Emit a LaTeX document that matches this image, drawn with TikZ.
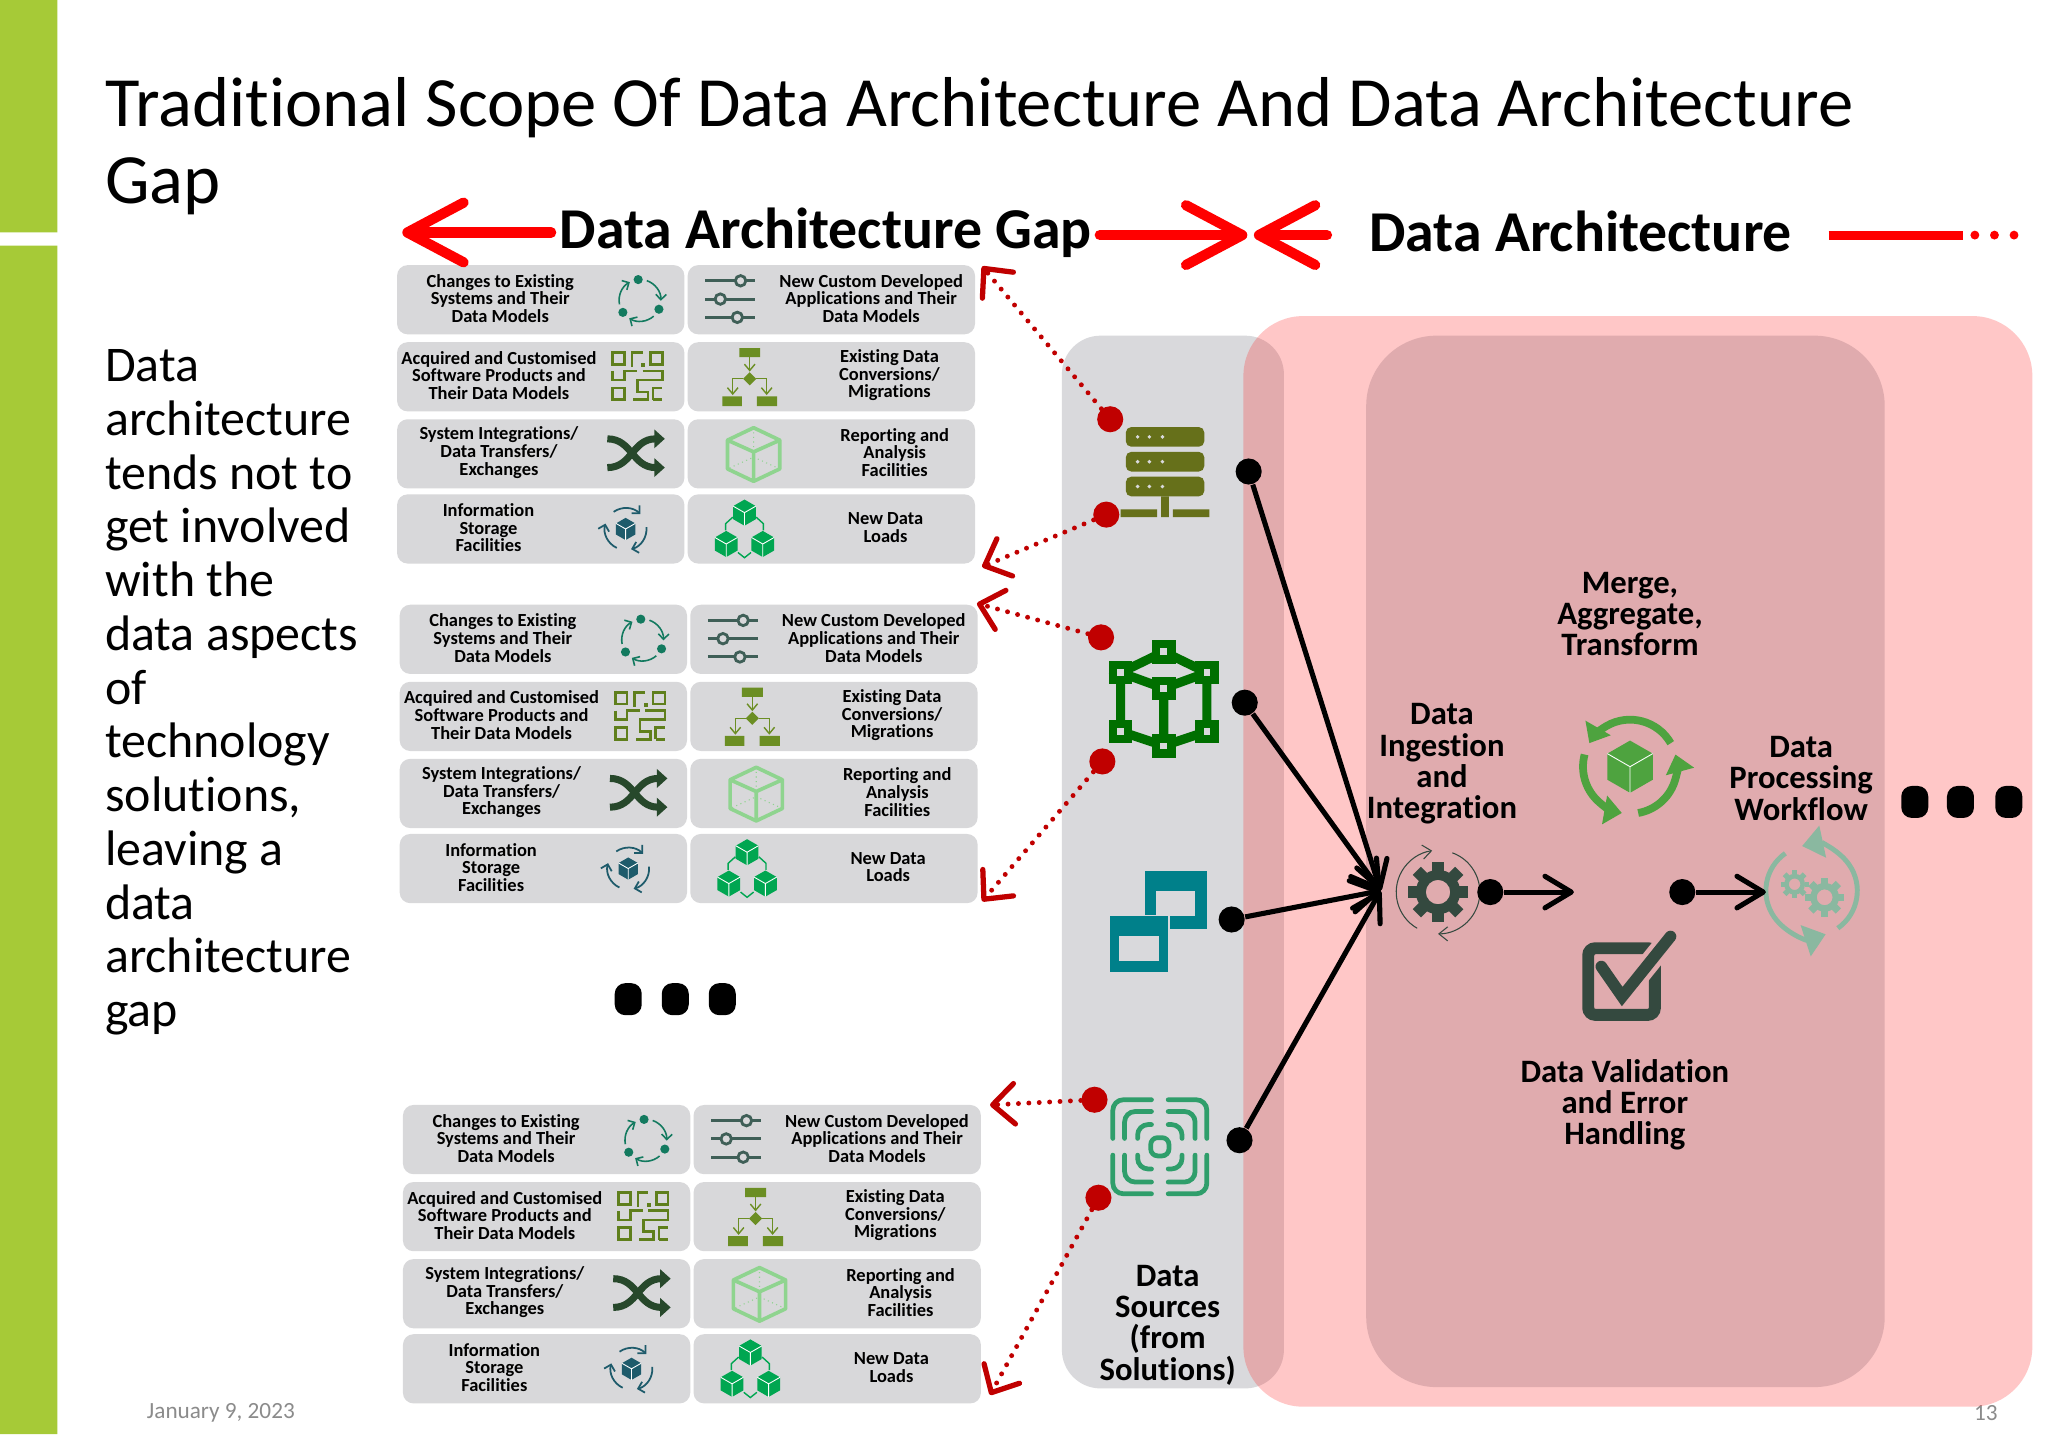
\documentclass[tikz,border=0pt]{standalone}
\usepackage{fontspec}
\setmainfont{Carlito}[RawFeature={-liga}]
\usetikzlibrary{arrows.meta}
\definecolor{barlime}{HTML}{A6CA37}
\definecolor{cardgray}{HTML}{D8D8DA}
\definecolor{panelgray}{HTML}{D9D9DC}
\definecolor{innerrose}{HTML}{E0ABAE}
\definecolor{gapred}{HTML}{C00000}
\definecolor{datedgray}{HTML}{8B8B8B}
\definecolor{cycleteal}{HTML}{137A5F}
\definecolor{qrolive}{HTML}{5F7F1C}
\definecolor{shuffledark}{HTML}{27482B}
\definecolor{storeteal}{HTML}{1E5B6B}
\definecolor{slidergray}{HTML}{3F5F57}
\definecolor{flowolive}{HTML}{6B8E23}
\definecolor{wiregreen}{HTML}{8FD48F}
\definecolor{cubegreen}{HTML}{00A651}
\definecolor{serverolive}{HTML}{66701A}
\definecolor{netgreen}{HTML}{006F00}
\definecolor{windowteal}{HTML}{00808A}
\definecolor{ringgreen}{HTML}{2F9E6B}
\definecolor{gearslate}{HTML}{34493F}
\definecolor{loopgreen}{HTML}{4EA33F}
\definecolor{palegreen}{HTML}{8AB8A0}
\tikzset{
	card/.style={fill=cardgray, rounded corners=3pt, minimum width=2.873cm, minimum height=0.692cm, inner sep=0},
	cardtext/.style={align=center, inner sep=0, font=\fontsize{5.25}{5}\selectfont\bfseries},
	steptext/.style={align=center, inner sep=0, font=\fontsize{9.3}{8.9}\selectfont\bfseries},
	headtext/.style={anchor=west, inner sep=0, font=\fontsize{16.45}{17}\selectfont\bfseries},
	blackdot/.style={circle, fill=black, minimum size=0.261cm, inner sep=0},
	reddot/.style={circle, fill=gapred, minimum size=0.261cm, inner sep=0},
	blob/.style={fill=black, rounded corners=3pt, minimum width=0.27cm, minimum height=0.32cm, inner sep=0},
	bigred/.style={red, line width=2.9pt, line cap=round, -{Straight Barb[length=16pt,width=17pt,round]}},
	gaparrow/.style={gapred, line width=1.4pt, dash pattern=on 0pt off 2.96pt, line cap=round, -{Straight Barb[length=6.2pt,width=11.5pt,line width=1.5pt,round]}},
	feed/.style={black, line width=1.45pt, -{Straight Barb[length=7.5pt,width=9pt,round]}},
	isobox/.pic={
		\fill (0,-1) -- (.87,-.5) -- (.87,.5) -- (0,1) -- (-.87,.5) -- (-.87,-.5) -- cycle;
		\draw[white, line width=.25pt] (-.87,-.5) -- (0,0) -- (.87,-.5) (0,0) -- (0,1);
	},
	gearwheel/.pic={
		\fill[even odd rule] (0,0) circle (1) circle (.55);
		\foreach \a in {0,45,...,315}
			\fill[rotate=\a] (-.26,-1.35) rectangle (.26,-.95);
	},
	cycleicon/.pic={
		\foreach \a in {-95,25,145} {
			\fill[cycleteal] (\a:16) circle (3.5);
			\draw[cycleteal, line width=.45pt, -{Straight Barb[length=1.5pt,width=3pt]}] (\a+24:16) arc[start angle=\a+24, end angle=\a+96, radius=16];
		}
	},
	qricon/.pic={
		\draw[qrolive, line width=.75pt] (-19,-18) rectangle (-10,-9) (10,-18) rectangle (19,-9) (-19,9) rectangle (-10,18)
			(-4,-7) -- (-4,-18) -- (4,-18) (-19,-4) -- (-19,3) -- (-10,3) -- (-10,-4) -- (0,-4) (4,-4) -- (19,-4) -- (19,3) -- (0,3) -- (0,12) -- (8,12) -- (8,18) -- (-3,18)
			(12,18) -- (12,9) -- (19,9) (12,18) -- (19,18);
		\fill[qrolive] (3,-10) rectangle (6,-7);
	},
	shuffleicon/.pic={
		\draw[shuffledark, line width=2pt, -{Triangle[length=3pt,width=5.2pt]}] (-22,-11) .. controls (-3,-11) and (-3,11) .. (15,11) -- (22,11);
		\draw[shuffledark, line width=2pt, -{Triangle[length=3pt,width=5.2pt]}] (-22,11) .. controls (-3,11) and (-3,-11) .. (15,-11) -- (22,-11);
	},
	storeicon/.pic={
		\foreach \a in {-125,-5,115}
			\draw[storeteal, line width=.5pt, -{Straight Barb[length=1.6pt,width=3.2pt]}] (\a:16) arc[start angle=\a, end angle=\a+80, radius=16];
		\pic[color=storeteal, scale=8.5] {isobox};
	},
	slidericon/.pic={
		\foreach \sy/\sx in {-14/8,0/-7.5,14/5.5} {
			\draw[slidergray, line width=.85pt] (-19,\sy) -- (19,\sy);
			\draw[slidergray, fill=cardgray, line width=.8pt] (\sx,\sy) circle (4);
		}
	},
	flowicon/.pic={
		\fill[flowolive] (-8,-22) rectangle (8,-15) (-21,15) rectangle (-6,22.5) (5.5,15) rectangle (21,22.5) (0,-3.5) -- (5,1.5) -- (0,6.5) -- (-5,1.5) -- cycle;
		\draw[flowolive, line width=.4pt, -{Straight Barb[length=1.8pt,width=3pt]}] (0,-15) -- (0,-4);
		\draw[flowolive, line width=.4pt, -{Straight Barb[length=1.8pt,width=3pt]}] (-5,1.5) -- (-13,1.5) -- (-13,14);
		\draw[flowolive, line width=.4pt, -{Straight Barb[length=1.8pt,width=3pt]}] (5,1.5) -- (13,1.5) -- (13,14);
	},
	wireicon/.pic={
		\draw[wiregreen, line width=1.05pt, line join=round] (0,-20.5) -- (20,-11) -- (20,11) -- (0,20.5) -- (-20,11) -- (-20,-11) -- cycle (-20,-11) -- (0,-2) -- (20,-11) (0,-2) -- (0,20.5);
		\draw[wiregreen, line width=.3pt, densely dotted] (0,-20.5) -- (0,2) -- (-20,11) (0,2) -- (20,11);
	},
	cubesicon/.pic={
		\pic[color=cubegreen, scale=10] at (0,-12.5) {isobox};
		\pic[color=cubegreen, scale=10] at (-14,11.5) {isobox};
		\pic[color=cubegreen, scale=10] at (14,11.5) {isobox};
		\draw[cubegreen, line width=.4pt] (-9,-9) -- (-14.5,-4) -- (-14.5,1) (9,-9) -- (14.5,-4) -- (14.5,1) (-5,18) -- (0,22) -- (5,18);
	},
	cardgroup/.pic={
		\foreach \cname/\cx/\cy/\tx/\ctext in {
			la/414/229.5/383/{Changes to Existing\\Systems and Their\\Data Models},
			lb/414/288.5/382/{Acquired and Customised\\Software Products and\\Their Data Models},
			lc/414/347.5/382/{System Integrations/\\Data Transfers/\\Exchanges},
			ld/414/405/374/{Information\\Storage\\Facilities},
			ra/636.5/229.5/667/{New Custom Developed\\Applications and Their\\Data Models},
			rb/636.5/288.5/681/{Existing Data\\Conversions/\\Migrations},
			rc/636.5/347.5/685/{Reporting and\\Analysis\\Facilities},
			rd/636.5/405/678/{New Data\\Loads}} {
			\node[card] (\cname) at (\cx,\cy) {};
			\node[cardtext] (\cname t) at (\tx,\cy-1) {\ctext};
		}
		\pic at (490,230) {cycleicon};
		\pic at (488,288) {qricon};
		\pic at (487,347) {shuffleicon};
		\pic at (479,405) {storeicon};
		\pic at (559,229) {slidericon};
		\pic at (574,288.5) {flowicon};
		\pic at (577,348) {wireicon};
		\pic at (570,405) {cubesicon};
	}
}
\begin{document}
\begin{tikzpicture}[x=0.01306cm, y=-0.01306cm]
	\useasboundingbox (0,0) rectangle (1568,1098);
	\fill[white] (0,0) rectangle (1568,1098);
	\fill[barlime] (0,0) rectangle (44,178) (0,188) rectangle (44,1098);
	\node[anchor=north west, align=left, inner sep=0, font=\fontsize{20.1}{21.9}\selectfont] (title) at (80,58.5) {Traditional Scope Of Data Architecture And Data Architecture\\Gap};
	\node[anchor=north west, align=left, inner sep=0, font=\fontsize{14.2}{15.3}\selectfont] (lefttext) at (80,267) {Data\\architecture\\tends not to\\get involved\\with the\\data aspects\\of\\technology\\solutions,\\leaving a\\data\\architecture\\gap};
	\node[anchor=west, inner sep=0, font=\fontsize{6.6}{7}\selectfont, text=datedgray] (datetext) at (112,1082) {January 9, 2023};
	\node[anchor=east, inner sep=0, font=\fontsize{6.6}{7}\selectfont, text=datedgray] (pagetext) at (1530,1082) {13};

	\foreach \gx/\gy/\gname in {0/0/one,2/260/two,4.5/643/three}
		\pic (\gname) at (\gx,\gy) {cardgroup};
	\foreach \bx in {481,517,553}
		\node[blob] (low\bx) at (\bx,765) {};

	\fill[panelgray, rounded corners=11pt] (813,257) rectangle (983,1063);
	\fill[red!90!white, opacity=.24, rounded corners=17pt] (952,242) rectangle (1556,1077);
	\fill[innerrose, rounded corners=20pt] (1046,257) rectangle (1443,1062);

	\node[headtext] (gaphead) at (428,178) {Data Architecture Gap};
	\node[headtext] (archhead) at (1048,177) {Data Architecture};
	\coordinate (gl) at (422,178);
	\coordinate (gle) at (308,178);
	\coordinate (gr) at (842,180);
	\coordinate (gre) at (955,180);
	\coordinate (al) at (1016,180);
	\coordinate (ale) at (960,180);
	\coordinate (ar) at (1400,180);
	\coordinate (are) at (1503,180);
	\draw[bigred] (gl) -- (gle);
	\draw[bigred] (gr) -- (gre);
	\draw[bigred] (al) -- (ale);
	\draw[red, line width=2.6pt] (ar) -- (are);
	\foreach \dx in {1512,1527,1542}
		\fill[red] (\dx,180) circle (3.4);

	\foreach \rname/\rx/\ry/\ex/\ey in {ra/850/321/752/204,rb/847/394/752/434,rc/843/488/748/462,rd/844/583/752/690,re/838/842/758/846,rf/841/917/758/1068} {
		\node[reddot] (\rname) at (\rx,\ry) {};
		\coordinate (\rname e) at (\ex,\ey);
		\draw[gaparrow] (\rname) -- (\rname e);
	}

	\fill[serverolive, rounded corners=1.5pt] (862,327) rectangle (922,342) (862,346) rectangle (922,361) (862,365) rectangle (922,380);
	\foreach \sy in {334.5,353.5,372.5}
		\foreach \sx in {871,880,890}
			\fill[panelgray] (\sx,\sy) circle (1.5);
	\fill[serverolive] (889,380) rectangle (895,396) (858,390) rectangle (886,396) (898,390) rectangle (926,396);

	\begin{scope}[shift={(891,535)}]
		\draw[netgreen, line width=2.6pt] (0,-36) -- (-33,-20) -- (0,-8) -- (33,-20) -- cycle (-33,-20) -- (-33,25) -- (0,36) -- (33,25) -- (33,-20) (0,-8) -- (0,36);
		\foreach \nx/\ny in {0/-36,-33/-20,33/-20,0/-8,-33/25,33/25,0/36} {
			\fill[netgreen] (\nx-9,\ny-9) rectangle (\nx+9,\ny+9);
			\fill[panelgray] (\nx-2.5,\ny-2.5) rectangle (\nx+2.5,\ny+2.5);
		}
	\end{scope}

	\fill[windowteal] (877,667) rectangle (924,711);
	\fill[panelgray] (885,682) rectangle (915,701);
	\fill[windowteal, draw=panelgray, line width=.4pt] (849,701) rectangle (895,745);
	\fill[panelgray] (857,717) rectangle (887,736);

	\begin{scope}[shift={(888,878)}]
		\foreach \sx/\sy in {1/1,1/-1,-1/1,-1/-1}
			\foreach \r in {36,27,17}
				\draw[ringgreen, line width=1.35pt, line cap=round, rounded corners=3pt] ({\sx*6.4},{\sy*\r}) -- ({\sx*\r},{\sy*\r}) -- ({\sx*\r},{\sy*6.4});
		\draw[ringgreen, line width=1.35pt, rounded corners=2pt] (-7,-7) rectangle (7,7);
	\end{scope}

	\node[steptext] (mergetext) at (1248,470) {Merge,\\Aggregate,\\Transform};
	\node[steptext] (ingesttext) at (1104,585) {Data\\Ingestion\\and\\Integration};
	\node[steptext] (processtext) at (1379,596) {Data\\Processing\\Workflow};
	\node[steptext] (checktext) at (1244,846) {Data Validation\\and Error\\Handling};
	\node[steptext] (sourcetext) at (894,1014.5) {Data\\Sources\\(from\\Solutions)};

	\begin{scope}[shift={(1248,587)}, loopgreen]
		\foreach \a/\b in {-30/-150,80/-15,195/100}
			\draw[line width=2.2pt, -{Triangle[length=5pt,width=8pt]}] (\a:36) arc[start angle=\a, end angle=\b, radius=36];
		\pic[scale=20] {isobox};
	\end{scope}

	\begin{scope}[shift={(1101,683)}, gearslate]
		\pic[scale=17] {gearwheel};
		\draw[line width=.3pt, -{Straight Barb[length=2.5pt,width=4pt]}] (120:32) arc[start angle=120, end angle=262, radius=32];
		\draw[line width=.3pt, -{Straight Barb[length=2.5pt,width=4pt]}] (-70:32) arc[start angle=-70, end angle=90, radius=32];
	\end{scope}

	\draw[gearslate, line width=3.4pt, rounded corners=2pt] (1216,726) rectangle (1267,777);
	\draw[innerrose, line width=6pt] (1242,763) -- (1279,717);
	\draw[gearslate, line width=3.3pt, line cap=round, line join=miter] (1226,740) -- (1242,763) -- (1279,717);

	\begin{scope}[shift={(1387,682)}, palegreen]
		\pic[scale=8] at (-13,-5) {gearwheel};
		\pic[scale=11] at (10,5) {gearwheel};
		\draw[line width=1.4pt, -{Triangle[length=6pt,width=9pt]}] (235:35) arc[start angle=235, end angle=72, radius=35];
		\draw[line width=1.4pt, -{Triangle[length=6pt,width=9pt]}] (55:35) arc[start angle=55, end angle=-102, radius=35];
	\end{scope}

	\foreach \fname/\fx/\fy in {fa/956/361,fb/953/538,fc/943/704,fd/949/873}
		\node[blackdot] (\fname) at (\fx,\fy) {};
	\coordinate (hub) at (1057,682);
	\foreach \fname in {fa,fb,fc,fd}
		\draw[feed] (\fname) -- (hub);
	\node[blackdot] (fe) at (1141,683) {};
	\coordinate (fee) at (1205,683);
	\draw[feed] (fe) -- (fee);
	\node[blackdot] (ff) at (1288,683) {};
	\coordinate (ffe) at (1352,683);
	\draw[feed] (ff) -- (ffe);

	\foreach \bx in {1466,1501,1538}
		\node[blob] (top\bx) at (\bx,614) {};
\end{tikzpicture}
\end{document}
